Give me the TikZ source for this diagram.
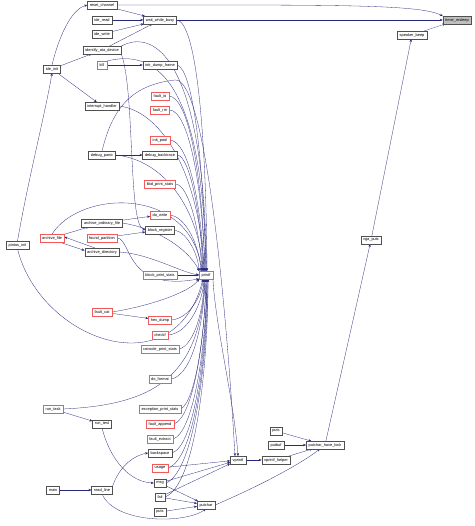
\documentclass[tikz,border=0pt]{standalone}
\usepackage{fontspec}
\setmainfont{Liberation Sans}
\usepackage{xcolor}
\usepackage{tikz}
\usetikzlibrary{arrows.meta, backgrounds}
\definecolor{edgeblue}{RGB}{40, 40, 125}
\definecolor{rootgray}{RGB}{191, 191, 191}
\definecolor{boxline}{RGB}{80, 80, 80}
\definecolor{undocred}{RGB}{240, 90, 90}

\begin{document}
\begin{tikzpicture}[
    x=1pt, y=-1pt,
    fnBox/.style={draw=boxline, fill=white, line width=0.3pt, font=\fontsize{3.9}{4.5}\selectfont, minimum height=7.5pt, inner xsep=2.4pt, inner ysep=0pt},
    fnUndoc/.style={fnBox, draw=undocred},
    fnRoot/.style={fnBox, fill=rootgray},
    callEdge/.style={draw=edgeblue, line width=0.3pt, -{Stealth[length=3pt, width=2.4pt]}}
]
\useasboundingbox (0,0) rectangle (474,526);

% Callee chain (right side)
\node[fnRoot] (timer_msleep) at (457,20) {timer\_msleep};
\node[fnBox] (speaker_beep) at (412,35) {speaker\_beep};
\node[fnBox] (vga_putc) at (371,240) {vga\_putc};
\node[fnBox] (putchar_have_lock) at (325,445) {putchar\_have\_lock};
\node[fnBox] (putsA) at (276,431) {puts};
\node[fnBox] (putbuf) at (276,445) {putbuf};
\node[fnBox] (vprintf_helper) at (276,460) {vprintf\_helper};
\node[fnBox] (vprintf) at (238,460) {vprintf};
\node[fnBox] (putchar) at (206,505) {putchar};
\node[fnUndoc] (printf) at (206,275) {printf};

% Column at x=160
\node[fnBox] (wait_while_busy) at (160,20) {wait\_while\_busy};
\node[fnBox] (intr_dump_frame) at (160,65) {intr\_dump\_frame};
\node[fnUndoc] (fault_io) at (160,96) {fault\_io};
\node[fnUndoc] (fault_rm) at (160,110) {fault\_rm};
\node[fnUndoc] (init_pool) at (160,140) {init\_pool};
\node[fnBox] (debug_backtrace) at (160,155) {debug\_backtrace};
\node[fnUndoc] (kbd_print_stats) at (160,184) {kbd\_print\_stats};
\node[fnUndoc] (do_write) at (160,215) {do\_write};
\node[fnBox] (block_register) at (160,230) {block\_register};
\node[fnUndoc] (block_print_stats) at (160,275) {block\_print\_stats};
\node[fnUndoc] (hex_dump) at (160,320) {hex\_dump};
\node[fnUndoc] (checkf) at (160,335) {checkf};
\node[fnUndoc] (console_print_stats) at (160,349) {console\_print\_stats};
\node[fnUndoc] (do_format) at (160,379) {do\_format};
\node[fnUndoc] (exception_print_stats) at (160,409) {exception\_print\_stats};
\node[fnUndoc] (fault_append) at (160,424) {fault\_append};
\node[fnUndoc] (fault_extract) at (160,439) {fault\_extract};
\node[fnBox] (backspace) at (160,453) {backspace};
\node[fnUndoc] (usage) at (160,468) {usage};
\node[fnBox] (msg) at (160,483) {msg};
\node[fnBox] (fail) at (160,497) {fail};
\node[fnBox] (putsB) at (160,512) {puts};

% Column at x=102
\node[fnBox] (reset_channel) at (102,5) {reset\_channel};
\node[fnBox] (ide_read) at (102,20) {ide\_read};
\node[fnBox] (ide_write) at (102,34) {ide\_write};
\node[fnBox] (identify_ata_device) at (102,50) {identify\_ata\_device};
\node[fnUndoc] (kill) at (102,65) {kill};
\node[fnBox] (interrupt_handler) at (102,106) {interrupt\_handler};
\node[fnBox] (debug_panic) at (102,155) {debug\_panic};
\node[fnBox] (archive_ordinary_file) at (102,223) {archive\_ordinary\_file};
\node[fnUndoc] (found_partition) at (102,238) {found\_partition};
\node[fnBox] (archive_directory) at (102,252) {archive\_directory};
\node[fnUndoc] (fault_cat) at (102,312) {fault\_cat};
\node[fnBox] (run_test) at (102,424) {run\_test};
\node[fnBox] (read_line) at (102,490) {read\_line};

% Leftmost callers
\node[fnBox] (ide_init) at (52,69) {ide\_init};
\node[fnUndoc] (archive_file) at (52,238) {archive\_file};
\node[fnUndoc] (run_task) at (53,409) {run\_task};
\node[fnBox] (main) at (53,490) {main};
\node[fnBox] (pintos_init) at (17.5,245) {pintos\_init};

\begin{scope}[on background layer]
% Chain into timer_msleep
\draw[callEdge] (speaker_beep) -- (timer_msleep);
\draw[callEdge] (vga_putc) -- (speaker_beep);
\draw[callEdge] (putchar_have_lock) -- (vga_putc);
\draw[callEdge] (putsA) -- (putchar_have_lock);
\draw[callEdge] (putbuf) -- (putchar_have_lock);
\draw[callEdge] (vprintf_helper) -- (putchar_have_lock);
\draw[callEdge] (vprintf) -- (vprintf_helper);
\draw[callEdge] (putchar.east) .. controls (250,490) and (295,468) .. ([xshift=-5pt]putchar_have_lock.south);
\draw[callEdge] (wait_while_busy) -- (timer_msleep);
\draw[callEdge] (reset_channel.east) .. controls (330,5) and (420,4) .. (timer_msleep.north west);
\draw[callEdge] (reset_channel) -- (wait_while_busy);
\draw[callEdge] (ide_read) -- (wait_while_busy);
\draw[callEdge] (ide_write) -- (wait_while_busy);
\draw[callEdge] (identify_ata_device) -- (wait_while_busy);

% Left side calls
\draw[callEdge] (ide_init.north) .. controls (58,40) and (70,10) .. (reset_channel.west);
\draw[callEdge] (ide_init) -- (identify_ata_device);
\draw[callEdge] (ide_init) -- (interrupt_handler);
\draw[callEdge] (pintos_init.north) .. controls (28,180) and (46,110) .. (ide_init.south);
\draw[callEdge] (kill) -- (intr_dump_frame);
\draw[callEdge] (debug_panic) -- (debug_backtrace);
\draw[callEdge] (identify_ata_device.south east) .. controls (135,90) and (128,225) .. (block_register.west);
\draw[callEdge] (found_partition) -- (block_register);
\draw[callEdge] (archive_file) -- (archive_ordinary_file);
\draw[callEdge] (archive_file.-30) -- (archive_directory.175);
\draw[callEdge] (archive_directory.150) -- (archive_file.5);
\draw[callEdge] (archive_ordinary_file) -- (do_write);
\draw[callEdge] (fault_cat) -- (hex_dump);
\draw[callEdge] (run_task) -- (run_test);
\draw[callEdge] (run_test.south) .. controls (110,460) and (130,482) .. (msg.west);
\draw[callEdge] (main) -- (read_line);
\draw[callEdge] (read_line.north east) .. controls (120,465) and (135,455) .. (backspace.west);
\draw[callEdge] (read_line.south) .. controls (115,524) and (185,524) .. (putchar.south);

% Into putchar and vprintf
\draw[callEdge] (msg) -- (putchar);
\draw[callEdge] (fail) -- (putchar);
\draw[callEdge] (putsB) -- (putchar);
\draw[callEdge] (usage) -- (vprintf);
\draw[callEdge] (msg) -- (vprintf);
\draw[callEdge] (fail) -- (vprintf);
\draw[callEdge] (printf.south east) .. controls (216,330) and (234,400) .. (vprintf.north);
\draw[callEdge] (debug_panic.north) .. controls (112,110) and (130,85) .. (175,80) .. controls (205,77) and (226,300) .. ([xshift=-3pt]vprintf.north);

% Into printf from above
\draw[callEdge] (wait_while_busy.east) .. controls (195,22) and (206,120) .. ([xshift=1pt]printf.north);
\draw[callEdge] (identify_ata_device.north east) .. controls (155,28) and (204,60) .. ([xshift=0.5pt]printf.north);
\draw[callEdge] (kill.north east) .. controls (150,50) and (203,70) .. (printf.north);
\draw[callEdge] (intr_dump_frame.east) .. controls (192,70) and (203,150) .. (printf.north);
\draw[callEdge] (fault_io.east) .. controls (188,97) and (202,170) .. ([xshift=-1pt]printf.north);
\draw[callEdge] (fault_rm.east) .. controls (188,111) and (202,180) .. ([xshift=-1pt]printf.north);
\draw[callEdge] (interrupt_handler.east) .. controls (165,112) and (200,180) .. ([xshift=-2pt]printf.north);
\draw[callEdge] (init_pool.east) .. controls (188,141) and (201,200) .. ([xshift=-2pt]printf.north);
\draw[callEdge] (debug_panic.east) .. controls (165,160) and (199,210) .. ([xshift=-3pt]printf.north);
\draw[callEdge] (debug_backtrace.east) .. controls (190,157) and (201,215) .. ([xshift=-3pt]printf.north);
\draw[callEdge] (kbd_print_stats.east) .. controls (190,186) and (200,235) .. ([xshift=-4pt]printf.north);
\draw[callEdge] (do_write.east) .. controls (186,217) and (199,245) .. ([xshift=-5pt]printf.north);
\draw[callEdge] (block_register.east) .. controls (188,233) and (198,255) .. (printf.north west);
\draw[callEdge] (archive_ordinary_file.east) .. controls (165,230) and (192,255) .. (printf.north west);
\draw[callEdge] (archive_file.north) .. controls (80,190) and (190,185) .. ([xshift=-4pt]printf.north);
\draw[callEdge] (archive_directory.east) .. controls (150,254) and (180,272) .. (printf.west);
\draw[callEdge] (found_partition.east) .. controls (132,240) and (125,292) .. (printf.south west);
\draw[callEdge] (block_print_stats) -- (printf);

% Into printf from below
\draw[callEdge] (fault_cat.east) .. controls (150,306) and (190,292) .. (printf.south west);
\draw[callEdge] (hex_dump.east) .. controls (190,318) and (202,295) .. ([xshift=-3pt]printf.south);
\draw[callEdge] (checkf.east) .. controls (190,333) and (203,300) .. ([xshift=-2pt]printf.south);
\draw[callEdge] (console_print_stats.east) .. controls (194,345) and (204,310) .. ([xshift=-2pt]printf.south);
\draw[callEdge] (pintos_init.south) .. controls (40,340) and (175,390) .. ([xshift=-3pt]printf.south);
\draw[callEdge] (do_format.east) .. controls (193,375) and (204,320) .. ([xshift=-1pt]printf.south);
\draw[callEdge] (run_task.east) .. controls (150,405) and (200,380) .. ([xshift=-1pt]printf.south);
\draw[callEdge] (exception_print_stats.east) .. controls (196,400) and (205,330) .. (printf.south);
\draw[callEdge] (fault_append.east) .. controls (193,418) and (205,340) .. (printf.south);
\draw[callEdge] (fault_extract.east) .. controls (194,432) and (206,345) .. ([xshift=1pt]printf.south);
\draw[callEdge] (backspace.east) .. controls (195,446) and (206,350) .. ([xshift=1pt]printf.south);
\draw[callEdge] (usage.east) .. controls (195,460) and (207,355) .. ([xshift=1pt]printf.south);
\draw[callEdge] (msg.east) .. controls (195,470) and (207,360) .. ([xshift=2pt]printf.south);
\draw[callEdge] (fail.east) .. controls (196,485) and (208,365) .. ([xshift=2pt]printf.south);
\end{scope}

\end{tikzpicture}
\end{document}
